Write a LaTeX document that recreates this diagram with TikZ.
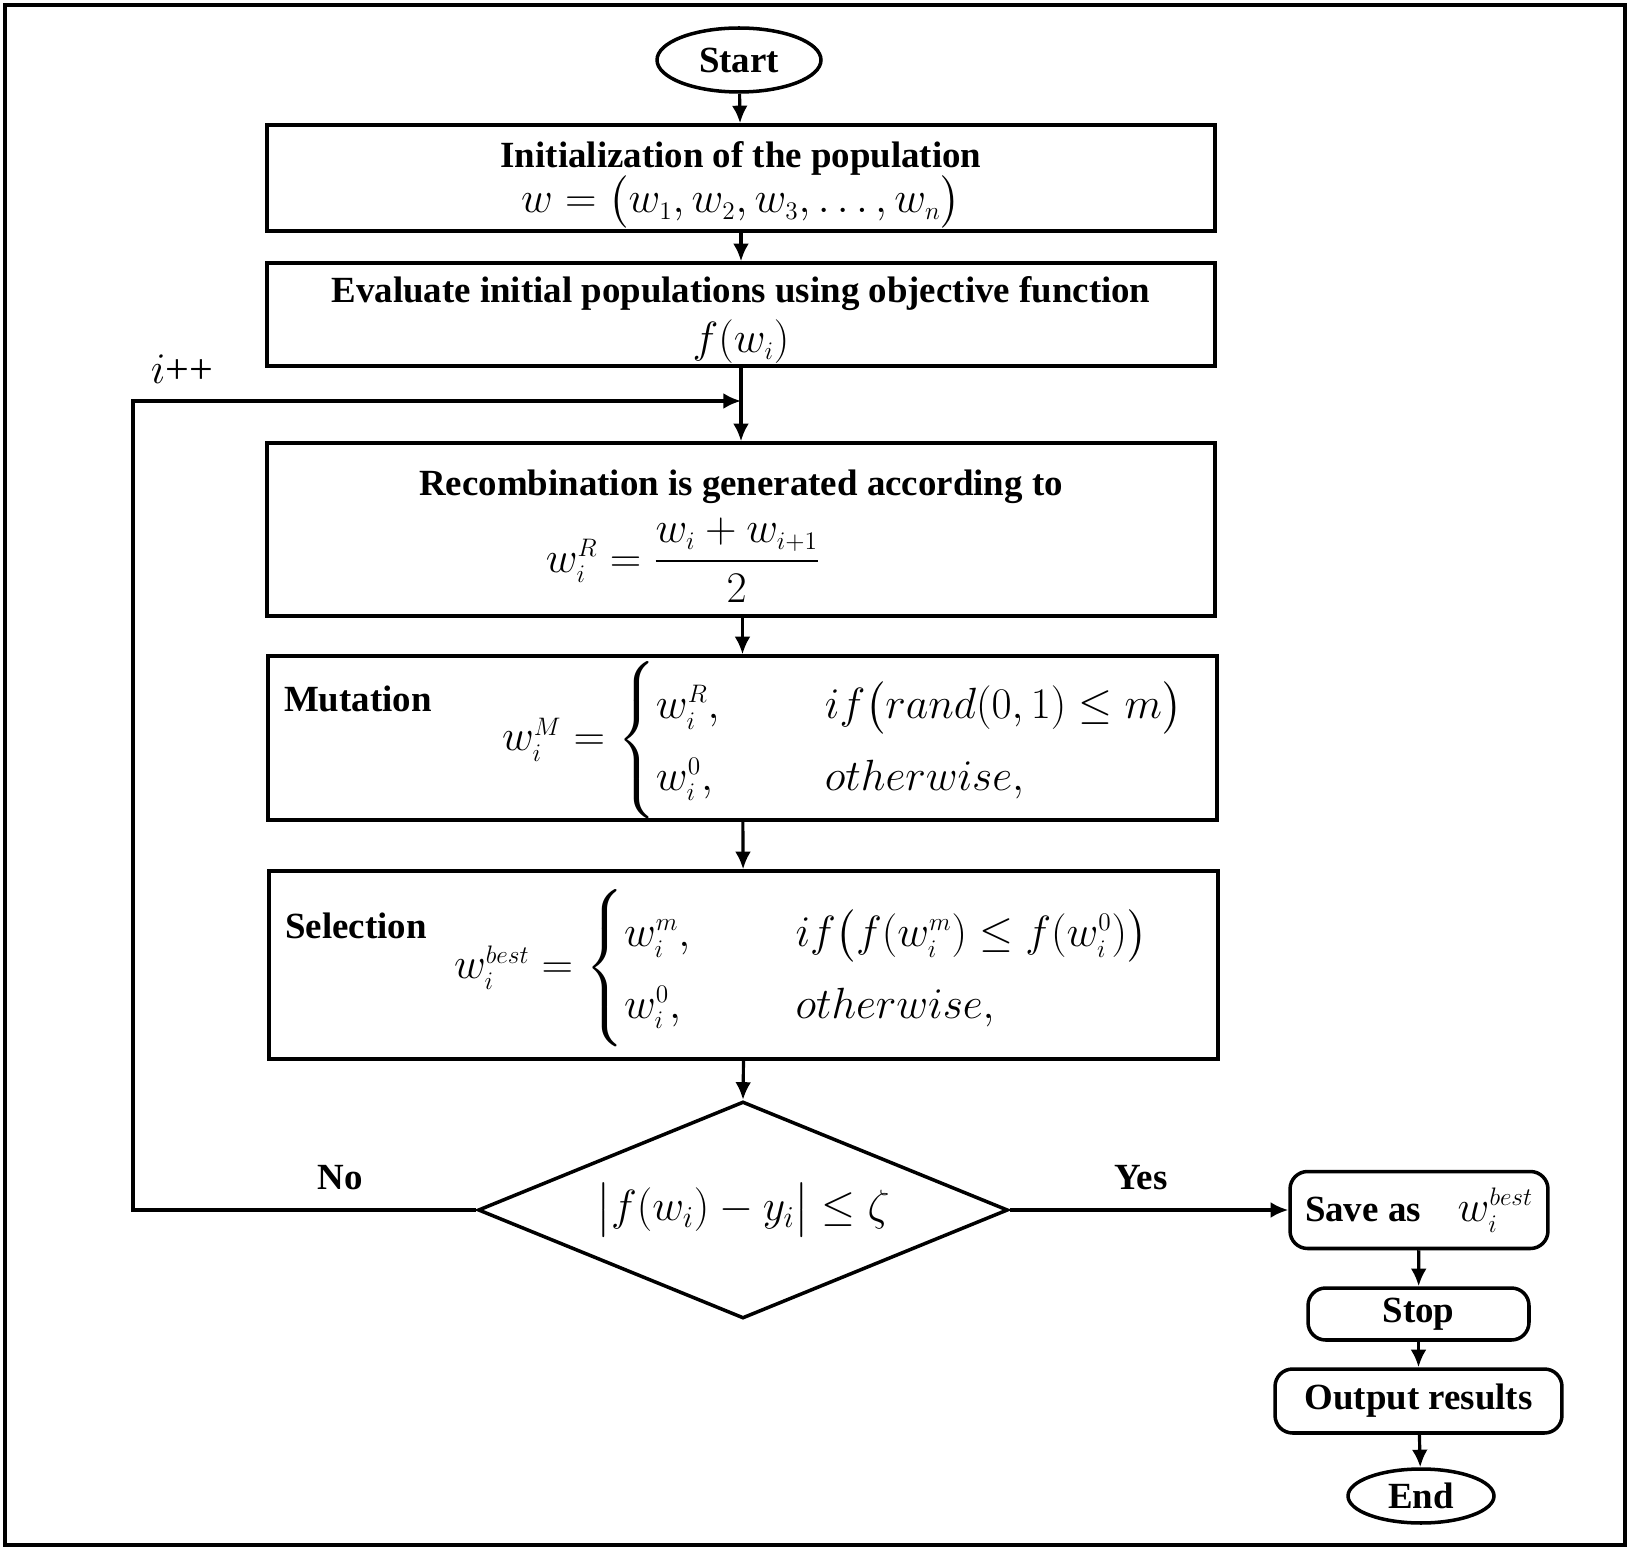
\documentclass[tikz,border=0pt]{standalone}
\usepackage{amsmath}
\usepackage{fontspec}
\setmainfont{Liberation Serif}
\usetikzlibrary{shapes.geometric,arrows.meta}
\begin{document}
\begin{tikzpicture}[x=0.02cm,y=-0.02cm,
  box/.style={draw,line width=2pt},
  rbox/.style={draw,line width=2pt,rounded corners=10pt},
  arr/.style={line width=1.8pt,-{Latex[length=10pt,width=9pt]}},
  lbl/.style={font=\fontsize{21}{25}\selectfont\bfseries,inner sep=1pt},
  mth/.style={font=\fontsize{30}{34}\selectfont,inner sep=1pt}]
\useasboundingbox (0,0) rectangle (1630,1550);
\draw[line width=2.5pt] (5,5) rectangle (1625,1545);
\node[draw,ellipse,line width=2pt,minimum width=3.28cm,minimum height=1.28cm,lbl] (start) at (739,60) {Start};
\node[box,minimum width=18.96cm,minimum height=2.12cm] (init) at (741,178) {};
\node[lbl] at (741,158) {Initialization of the population};
\node[mth] at (741,202) {$w=\bigl(w_{\scriptscriptstyle 1},w_{\scriptscriptstyle 2},w_{\scriptscriptstyle 3},\ldots,w_{\scriptscriptstyle n}\bigr)$};
\node[box,minimum width=18.96cm,minimum height=2.06cm] (eval) at (741,314.5) {};
\node[lbl] at (741,294) {Evaluate initial populations using objective function};
\node[mth] at (741,342) {$f(w_{\scriptscriptstyle i})$};
\node[box,minimum width=18.96cm,minimum height=3.46cm] (rec) at (741,529.5) {};
\node[lbl] at (741,487) {Recombination is generated according to};
\node[mth] at (683,560) {$w_{\scriptscriptstyle i}^{\scriptscriptstyle R}=\dfrac{w_{\scriptscriptstyle i}+w_{\scriptscriptstyle i+1}}{2}$};
\node[box,minimum width=18.98cm,minimum height=3.28cm] (mut) at (742.5,738) {};
\node[lbl,anchor=west] at (282,699) {Mutation};
\node[mth,anchor=west] at (500,740) {$w_{\scriptscriptstyle i}^{\scriptscriptstyle M}=\begin{cases} w_{\scriptscriptstyle i}^{\scriptscriptstyle R}, & \quad if\bigl(rand(0,1)\le m\bigr)\\ w_{\scriptscriptstyle i}^{\scriptscriptstyle 0}, & \quad otherwise,\end{cases}$};
\node[box,minimum width=18.98cm,minimum height=3.76cm] (sel) at (743.5,965) {};
\node[lbl,anchor=west] at (283,926) {Selection};
\node[mth,anchor=west] at (452,968) {$w_{\scriptscriptstyle i}^{\scriptscriptstyle best}=\begin{cases} w_{\scriptscriptstyle i}^{\scriptscriptstyle m}, & \quad if\bigl(f(w_{\scriptscriptstyle i}^{\scriptscriptstyle m})\le f(w_{\scriptscriptstyle i}^{\scriptscriptstyle 0})\bigr)\\ w_{\scriptscriptstyle i}^{\scriptscriptstyle 0}, & \quad otherwise,\end{cases}$};
\node[draw,diamond,line width=2pt,aspect=2.45,minimum width=10.6cm,minimum height=4.34cm,inner sep=0pt] (dec) at (743,1210) {};
\node[mth,font=\fontsize{34}{38}\selectfont] at (743,1210) {$\bigl|f(w_{\scriptscriptstyle i})-y_{\scriptscriptstyle i}\bigr|\le\zeta$};
\node[rbox,minimum width=5.16cm,minimum height=1.54cm,lbl] (save) at (1419,1210) {Save as\quad{\mdseries\fontsize{30}{34}\selectfont$w_{\scriptscriptstyle i}^{\scriptscriptstyle best}$}};
\node[rbox,minimum width=4.42cm,minimum height=1.04cm,lbl] (stop) at (1418.5,1314) {Stop};
\node[rbox,minimum width=5.74cm,minimum height=1.28cm,lbl] (out) at (1418.5,1401) {Output results};
\node[draw,ellipse,line width=2pt,minimum width=2.92cm,minimum height=1.08cm,lbl] (end) at (1421,1496) {End};
\coordinate (loopin) at (741,401);
\draw[arr] (start) -- (init);
\draw[arr] (init) -- (eval);
\draw[line width=1.8pt] (eval) -- (loopin);
\draw[arr] (loopin) -- (rec);
\draw[arr] (rec.south -| mut.north) -- (mut);
\draw[arr] (mut) -- (sel);
\draw[arr] (sel.south) -- (dec.north);
\draw[arr] (dec.west) -- (133,1210) -- (133,401) -- (loopin);
\draw[arr] (dec.east) -- (save.west);
\draw[arr] (save) -- (stop);
\draw[arr] (stop) -- (out);
\draw[arr] (out) -- (end);
\node[lbl] at (340,1178) {No};
\node[lbl] at (1141,1178) {Yes};
\node[mth,font=\fontsize{24}{28}\selectfont] at (182,369) {$i$++};
\end{tikzpicture}
\end{document}
